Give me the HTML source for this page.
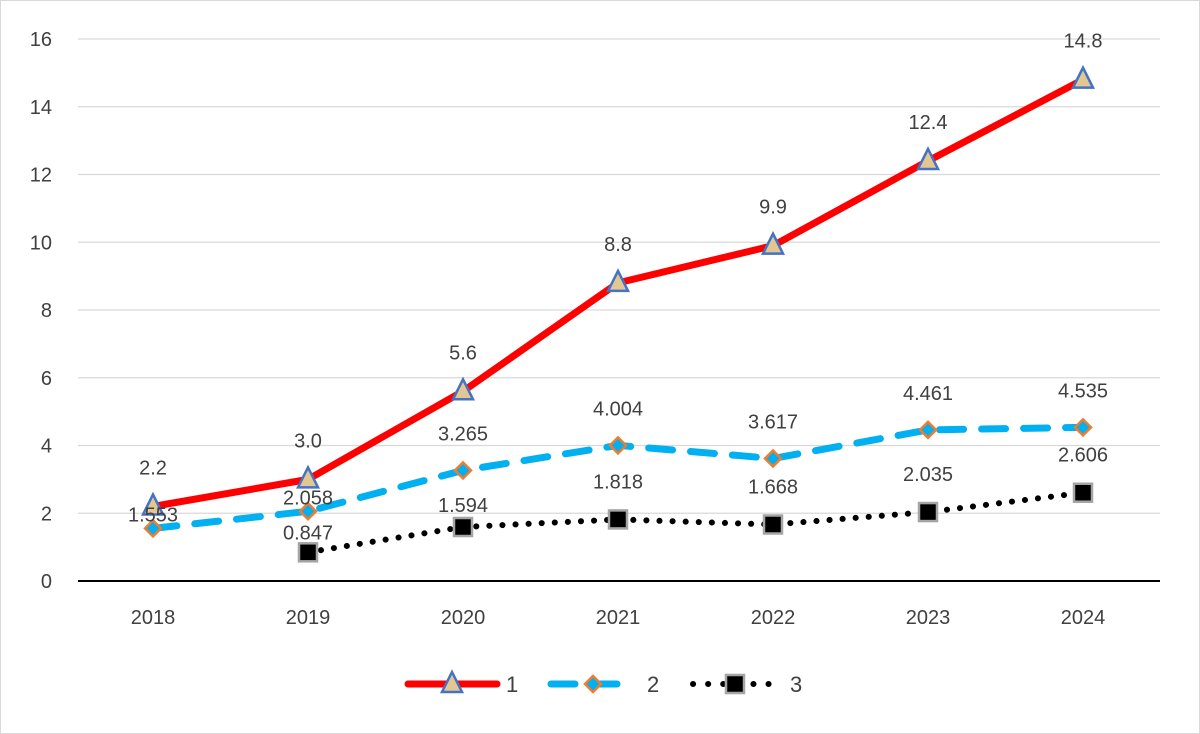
<!DOCTYPE html>
<html><head><meta charset="utf-8">
<style>
html,body{margin:0;padding:0;background:#fff;}
svg{display:block;font-family:"Liberation Sans",Calibri,sans-serif;}
</style></head>
<body>
<svg id="chart" width="1200" height="734" viewBox="0 0 1200 734" xmlns="http://www.w3.org/2000/svg">
<rect x="0.5" y="0.5" width="1199" height="733" fill="#fff" stroke="#d9d9d9"/>
<g id="grid"></g>
<g id="yticks"></g>
<g id="xticks"></g>
<g id="series"></g>
<g id="labels"></g>
<g id="legend"></g>
</svg>
<script>
const categories = ["2018","2019","2020","2021","2022","2023","2024"];
const series1 = [2.2, 3.0, 5.6, 8.8, 9.9, 12.4, 14.8];
const series2 = [1.553, 2.058, 3.265, 4.004, 3.617, 4.461, 4.535];
const series3 = [null, 0.847, 1.594, 1.818, 1.668, 2.035, 2.606];
const labels1 = ["2.2","3.0","5.6","8.8","9.9","12.4","14.8"];
const labels2 = ["1.553","2.058","3.265","4.004","3.617","4.461","4.535"];
const labels3 = ["","0.847","1.594","1.818","1.668","2.035","2.606"];
const yTicks = [0,2,4,6,8,10,12,14,16];
const seriesNames = ["1","2","3"];

const NS="http://www.w3.org/2000/svg";
const L=78,R=1160,T=39,B=581,yMax=16;
const x=i=>153+i*(1083-153)/(categories.length-1);
const y=v=>B-(v/yMax)*(B-T);
function mk(tag,attrs,parent,text){const e=document.createElementNS(NS,tag);for(const k in attrs)e.setAttribute(k,attrs[k]);if(text!==undefined)e.textContent=text;parent.appendChild(e);return e;}
const g=id=>document.getElementById(id);

yTicks.forEach(t=>{
  if(t>0){const ln=mk("line",{x1:L,x2:R,y1:y(t),y2:y(t),stroke:"#d9d9d9","stroke-width":1.3},g("grid"));
  
  }
  const tx=mk("text",{x:52,y:y(t)+7,"text-anchor":"end","font-size":20,fill:"#404040"},g("yticks"),String(t));
  
  
});
const ax=mk("line",{x1:L,x2:R,y1:B,y2:B,stroke:"#000","stroke-width":2},g("xticks"));


categories.forEach((c,i)=>{
  const tx=mk("text",{x:x(i),y:624,"text-anchor":"middle","font-size":20,fill:"#404040"},g("xticks"),c);
  
  
});

function path(vals){let d="";vals.forEach((v,i)=>{if(v===null)return;d+=(d?"L":"M")+x(i)+","+y(v);});return d;}
function tri(cx,cy,p,name){const e=mk("polygon",{points:`${cx},${cy-12} ${cx-10},${cy+8} ${cx+10},${cy+8}`,fill:"#e2c793",stroke:"#4472c4","stroke-width":2.5},p);}
function dia(cx,cy,p,name){const e=mk("polygon",{points:`${cx},${cy-8} ${cx+8},${cy} ${cx},${cy+8} ${cx-8},${cy}`,fill:"#00b0f0",stroke:"#ed7d31","stroke-width":2.5},p);}
function sq(cx,cy,p,name){const e=mk("rect",{x:cx-9,y:cy-9,width:18,height:18,fill:"#000",stroke:"#a5a5a5","stroke-width":2.5},p);}

const s=g("series");
let p3=mk("path",{d:path(series3),fill:"none",stroke:"#000","stroke-width":6,"stroke-dasharray":"0.1 13","stroke-linecap":"round"},s);


let p2=mk("path",{d:path(series2),fill:"none",stroke:"#00b0f0","stroke-width":7,"stroke-dasharray":"24 18","stroke-linecap":"round"},s);


let p1=mk("path",{d:path(series1),fill:"none",stroke:"#ff0000","stroke-width":7,"stroke-linejoin":"round"},s);


series3.forEach((v,i)=>{if(v!==null)sq(x(i),y(v),s,'series-3-point');});
series2.forEach((v,i)=>dia(x(i),y(v),s,'series-2-point'));
series1.forEach((v,i)=>tri(x(i),y(v),s,'series-1-point'));

const lg=g("labels");
function lab(vals,txts,defOff,special){vals.forEach((v,i)=>{if(v===null)return;const off=special[i]!==undefined?special[i]:defOff;
  const t=mk("text",{x:x(i),y:y(v)-off+7,"text-anchor":"middle","font-size":20,fill:"#404040"},lg,txts[i]);
  
  });}
lab(series1,labels1,39,{});
lab(series2,labels2,37,{0:14,1:14});
lab(series3,labels3,38,{1:20,2:22});

const le=g("legend");
function legLine(x1,x2,attrs){const e=mk("line",Object.assign({x1:x1,x2:x2,y1:684,y2:684},attrs),le);}
legLine(408,497,{stroke:"#ff0000","stroke-width":7,"stroke-linecap":"round"});
tri(452,684,le,'legend-marker-1');
legLine(551,630,{stroke:"#00b0f0","stroke-width":7,"stroke-dasharray":"24 18","stroke-linecap":"round"});
dia(593,684,le,'legend-marker-2');
legLine(693,770,{stroke:"#000","stroke-width":6,"stroke-dasharray":"0.1 15","stroke-linecap":"round"});
sq(735,684,le,'legend-marker-3');
[[506,0],[647,1],[790,2]].forEach(([lx,k])=>{const t=mk("text",{x:lx,y:692,"font-size":22,fill:"#404040"},le,seriesNames[k]);
  
  });
</script>
</body></html>
